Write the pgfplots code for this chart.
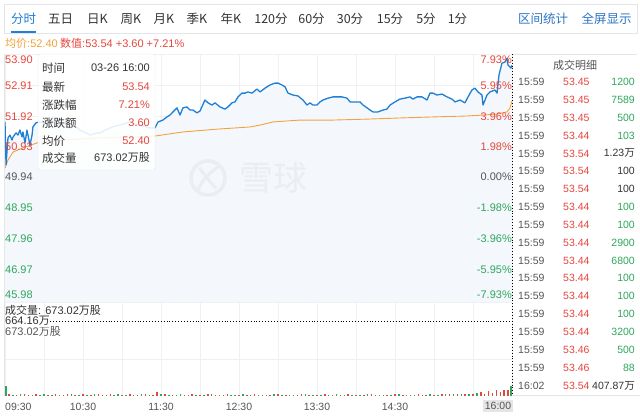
\documentclass[border=0pt]{standalone}
\usepackage{pgfplots}
\pgfplotsset{compat=1.18}
\usepackage{pgfplotstable}
\usepackage{fontspec}
\setmainfont{Liberation Sans}
\newfontfamily\cjk{Noto Sans CJK SC}

\definecolor{tabtxt}{HTML}{333333}
\definecolor{tabblue}{HTML}{1E80D6}
\definecolor{linkblue}{HTML}{2C74C4}
\definecolor{upred}{HTML}{E5463C}
\definecolor{dngreen}{HTML}{2FA65C}
\definecolor{priceblue}{HTML}{1E7FD6}
\definecolor{avgorange}{HTML}{F2A33A}
\definecolor{gridc}{HTML}{EEF0F2}
\definecolor{areafill}{HTML}{F4F8FD}
\definecolor{framec}{HTML}{E3E5E8}
\definecolor{labgrey}{HTML}{555555}
\definecolor{wmark}{HTML}{EBEDF0}

\newcommand\fs[1]{\fontsize{#1}{#1}\selectfont}

% minute since 09:30, price
\pgfplotstableread{
m p
0 51.73
0.8 50.36
2.3 51.22
3.8 51.31
5.4 51.15
6.2 51.25
8.5 51.38
10 51.31
11.5 51.47
13.1 51.25
13.8 51.41
15.4 51.06
16.9 51.47
17.7 51.31
19.2 50.99
20.8 51.31
21.5 51.57
23.8 51.70
26.9 51.74
30.8 51.68
34.6 51.79
38.5 51.70
42.3 51.63
46.2 51.58
50 51.54
53.8 51.60
57.7 51.47
61.5 51.40
65.4 51.31
69.2 51.36
73.1 51.38
76.9 51.47
80.8 51.54
84.6 51.60
88.5 51.63
92.3 51.68
96.2 51.73
100 51.66
103.8 51.63
107.7 51.58
111.5 51.54
115.4 51.54
117.7 51.73
121.5 51.79
124.6 51.89
126.9 51.95
129.2 52.05
132.3 52.18
134.6 51.95
136.9 52.18
140 52.21
142.3 52.11
144.6 52.11
147.7 52.02
150 52.08
153.8 52.43
156.2 52.34
159.2 52.27
161.5 52.34
165.4 52.21
169.2 52.14
171.5 52.21
174.6 52.34
176.9 52.37
179.2 52.53
182.3 52.65
184.6 52.65
186.9 52.69
190 52.65
193.8 52.78
196.2 52.69
200 52.81
203.8 52.91
207.7 52.97
210 52.97
213.1 52.91
215.4 52.85
217.7 52.65
221.5 52.59
225.4 52.56
229.2 52.43
232.3 52.27
234.6 52.34
236.9 52.27
240 52.27
242.3 52.37
244.6 52.43
248.5 52.49
252.3 52.53
256.2 52.53
259.2 52.53
263.1 52.49
265.4 52.37
269.2 52.37
273.1 52.37
275.4 52.27
278.5 52.18
280.8 52.11
283.1 52.05
286.9 52.05
290.8 52.11
293.8 52.14
296.2 52.27
300 52.37
303.8 52.46
307.7 52.49
311.5 52.53
313.8 52.46
316.9 52.53
320.8 52.53
324.6 52.43
326.9 52.65
329.2 52.65
332.3 52.59
336.2 52.62
340 52.53
343.8 52.46
346.2 52.37
350 52.43
353.8 52.34
356.2 52.53
359.2 52.75
361.5 52.81
363.8 52.69
366.9 52.59
367.7 52.27
370.8 52.59
373.1 52.69
376.9 52.75
378.5 52.65
380 53.23
382.3 53.61
384.6 53.64
386.2 53.77
386.9 53.55
389.2 53.45
390 53.54
}\pricedata

\pgfplotstableread{
m p
0 50.26
2.3 50.51
6.2 50.77
13.8 50.90
24.6 51.06
42.3 51.15
73.1 51.22
115.4 51.28
136.9 51.41
163.1 51.50
188.5 51.57
196.2 51.63
206.2 51.73
226.9 51.79
252.3 51.79
278.5 51.82
306.2 51.86
329.2 51.89
355.4 51.92
367.7 51.95
378.5 51.98
386.2 52.05
388.5 52.18
390 52.40
}\avgdata

\begin{document}
\begin{tikzpicture}
\path[use as bounding box] (0pt,0pt) rectangle (640pt,419pt);

% everything outside the axes in pixel coordinates, y from the top
\begin{scope}[x=1pt,y=-1pt,yshift=419pt]
% tab bar
\draw[framec] (4,4) rectangle (637,33);
\fill[tabblue] (11,31) rectangle (36,33);
\begin{scope}[every node/.style={inner sep=0pt, font=\cjk\fs{12.5}, text=tabtxt}]
\node[text=tabblue] at (23.5,19) {分时};
\node at (60.5,19) {五日};
\node at (97.5,19) {日K};
\node at (131,19) {周K};
\node at (164,19) {月K};
\node at (197,19) {季K};
\node at (231,19) {年K};
\node at (271,19) {120分};
\node at (311.5,19) {60分};
\node at (350,19) {30分};
\node at (390,19) {15分};
\node at (426,19) {5分};
\node at (457.5,19) {1分};
\node[text=linkblue] at (543,19) {区间统计};
\node[text=linkblue] at (606.5,19) {全屏显示};
\end{scope}

\node[anchor=west, inner sep=0pt, font=\fs{11}, text=avgorange] at (5,43) {{\cjk 均价}:52.40};
\node[anchor=west, inner sep=0pt, font=\fs{11}, text=upred] at (60,43) {{\cjk 数值}:53.54 +3.60 +7.21\%};

\draw[framec] (4,54) -- (637,54);
\draw[framec] (4,54) -- (4,396);
\end{scope}

% price panel
\begin{axis}[
  at={(5pt,117pt)}, anchor=south west,
  scale only axis, width=507pt, height=248pt,
  xmin=0, xmax=390, ymin=45.98, ymax=53.90,
  xtick={0,30,...,390},
  ytick={45.98,46.97,47.96,48.95,49.94,50.93,51.92,52.91,53.90},
  xticklabels={}, yticklabels={},
  tick style={draw=none},
  grid=major, grid style={gridc, line width=0.6pt},
  axis line style={draw=none},
]
\addplot[fill=areafill, draw=none] table[x=m, y=p] {\pricedata} \closedcycle;
\addplot[avgorange, line width=0.9pt, mark=none] table[x=m, y=p] {\avgdata};
\addplot[priceblue, line width=1.3pt, mark=none, line join=round] table[x=m, y=p] {\pricedata};
\end{axis}

% volume panel
\begin{axis}[
  at={(5pt,23pt)}, anchor=south west,
  scale only axis, width=507pt, height=94pt,
  xmin=0, xmax=390, ymin=0, ymax=841.27,
  xtick={0,30,...,390}, ytick={332.08},
  xticklabels={}, yticklabels={},
  tick style={draw=none},
  grid=major, grid style={gridc, line width=0.6pt},
  axis line style={draw=none},
]
\addplot[ycomb, upred, line width=1.5pt, mark=none] coordinates {
(3,14) (9,13) (15,15) (18,12) (24,14) (33,13) (39,16) (45,12) (48,14) (54,13)
(60,15) (66,12) (72,14) (75,13) (81,16) (90,12) (96,14) (102,13) (108,15) (114,13)
(117,32) (123,14) (129,12) (138,13) (144,14) (150,12) (156,15) (162,13) (165,12) (171,14)
(180,13) (186,12) (192,14) (198,13) (204,12) (210,15) (216,13) (222,12) (228,14) (234,13)
(240,12) (246,14) (252,13) (258,12) (264,14) (270,13) (276,12) (282,15) (288,13) (294,12)
(300,14) (306,13) (312,12) (318,14) (324,13) (330,12) (336,15) (342,16) (348,18) (354,20)
(360,22) (366,34) (369,20) (372,42) (375,26) (378,54) (381,32) (384,50) (387,58)};
\addplot[ycomb, dngreen, line width=1.5pt, mark=none] coordinates {
(0.7,90) (6,13) (12,14) (21,12) (27,13) (30,15) (36,12) (42,13) (51,14) (57,12)
(63,13) (69,14) (78,12) (84,13) (87,14) (93,12) (99,13) (105,14) (111,12) (120,16)
(126,13) (132,12) (135,14) (141,13) (147,12) (153,13) (159,14) (168,12) (174,13) (177,12)
(183,14) (189,13) (195,12) (201,13) (207,14) (213,12) (219,13) (225,12) (231,14) (237,13)
(243,12) (249,13) (255,14) (261,12) (267,13) (273,12) (279,14) (285,13) (291,12) (297,13)
(303,14) (309,12) (315,13) (321,12) (327,14) (333,13) (339,14) (345,16) (351,15) (357,18)
(363,24) (389.3,85)};
\addplot[black, dotted, line width=0.9pt, mark=none] coordinates {(35,664.16) (390,664.16)};
\end{axis}

\begin{scope}[x=1pt,y=-1pt,yshift=419pt]
% watermark
\draw[wmark, line width=3.5pt] (208,178) circle (17);
\draw[wmark, line width=3pt] (198,190) .. controls (204,176) and (212,172) .. (219,166);
\draw[wmark, line width=3pt] (199,168) .. controls (205,174) and (209,182) .. (216,188);
\node[inner sep=0pt, font=\cjk\fs{34}, text=wmark] at (273,178) {雪球};

\draw[black, dotted, line width=0.9pt] (512,54) -- (512,396);

% price labels
\begin{scope}[every node/.style={inner sep=0pt, font=\fs{11}}]
\node[anchor=west, text=upred] at (5,60) {53.90};
\node[anchor=west, text=upred] at (5,86) {52.91};
\node[anchor=west, text=upred] at (5,117) {51.92};
\node[anchor=west, text=upred] at (5,147) {50.93};
\node[anchor=west, text=labgrey] at (5,177) {49.94};
\node[anchor=west, text=dngreen] at (5,208) {48.95};
\node[anchor=west, text=dngreen] at (5,239) {47.96};
\node[anchor=west, text=dngreen] at (5,270) {46.97};
\node[anchor=west, text=dngreen] at (5,295) {45.98};
\node[anchor=east, text=upred] at (512,60) {7.93\%};
\node[anchor=east, text=upred] at (512,86) {5.95\%};
\node[anchor=east, text=upred] at (512,117) {3.96\%};
\node[anchor=east, text=upred] at (512,147) {1.98\%};
\node[anchor=east, text=labgrey] at (512,177) {0.00\%};
\node[anchor=east, text=dngreen] at (512,208) {-1.98\%};
\node[anchor=east, text=dngreen] at (512,239) {-3.96\%};
\node[anchor=east, text=dngreen] at (512,270) {-5.95\%};
\node[anchor=east, text=dngreen] at (512,295) {-7.93\%};
\end{scope}

% volume labels
\begin{scope}[every node/.style={inner sep=0pt, font=\fs{11}, text=tabtxt}]
\node[anchor=west] at (5,310) {{\cjk 成交量}: 673.02{\cjk 万股}};
\node[anchor=west, text=labgrey] at (5,332) {673.02{\cjk 万股}};
\node[anchor=west, fill=white, inner ysep=1pt] at (5,321) {664.16{\cjk 万}};
\end{scope}

% time labels
\begin{scope}[every node/.style={inner sep=0pt, font=\fs{10.5}, text=labgrey}]
\node[anchor=west] at (5,407) {09:30};
\node at (83,407) {10:30};
\node at (161,407) {11:30};
\node at (239,407) {12:30};
\node at (317,407) {13:30};
\node at (395,407) {14:30};
\node[fill=black!10, inner xsep=2pt, inner ysep=2.5pt] at (498,406) {16:00};
\end{scope}

% tooltip
\draw[framec, fill=white, fill opacity=0.88, rounded corners=2pt] (38,54) rectangle (155,170);
\begin{scope}[every node/.style={inner sep=0pt, font=\fs{11}, text=tabtxt}]
\node[anchor=west, font=\cjk\fs{11.5}] at (42,68) {时间};
\node[anchor=east] at (150,68) {03-26 16:00};
\node[anchor=west, font=\cjk\fs{11.5}] at (42,87) {最新};
\node[anchor=east, text=upred] at (150,87) {53.54};
\node[anchor=west, font=\cjk\fs{11.5}] at (42,105) {涨跌幅};
\node[anchor=east, text=upred] at (150,105) {7.21\%};
\node[anchor=west, font=\cjk\fs{11.5}] at (42,123) {涨跌额};
\node[anchor=east, text=upred] at (150,123) {3.60};
\node[anchor=west, font=\cjk\fs{11.5}] at (42,141) {均价};
\node[anchor=east, text=upred] at (150,141) {52.40};
\node[anchor=west, font=\cjk\fs{11.5}] at (42,158) {成交量};
\node[anchor=east] at (150,158) {673.02{\cjk 万股}};
\end{scope}

% trade detail panel
\draw[framec] (513,395) -- (640,395);
\node[inner sep=0pt, font=\cjk\fs{11}, text=labgrey] at (575,65) {成交明细};
\begin{scope}[every node/.style={inner sep=0pt, font=\fs{10.5}}]
\foreach \t/\p/\v/\c [count=\k from 0] in {
  15:59/53.45/1200/dngreen, 15:59/53.45/7589/dngreen, 15:59/53.45/500/dngreen,
  15:59/53.44/103/dngreen, 15:59/53.54/1.23{\cjk 万}/tabtxt, 15:59/53.54/100/tabtxt,
  15:59/53.54/100/tabtxt, 15:59/53.44/100/dngreen, 15:59/53.44/100/dngreen,
  15:59/53.44/2900/dngreen, 15:59/53.44/6800/dngreen, 15:59/53.44/100/dngreen,
  15:59/53.44/100/dngreen, 15:59/53.44/100/dngreen, 15:59/53.44/3200/dngreen,
  15:59/53.46/500/dngreen, 15:59/53.46/88/dngreen, 16:02/53.54/407.87{\cjk 万}/tabtxt} {
  \pgfmathsetmacro\yy{82+17.85*\k}
  \node[anchor=west, text=labgrey] at (518,\yy) {\t};
  \node[anchor=west, text=upred] at (563,\yy) {\p};
  \node[anchor=east, text=\c] at (635,\yy) {\v};
}
\end{scope}
\end{scope}
\end{tikzpicture}
\end{document}
